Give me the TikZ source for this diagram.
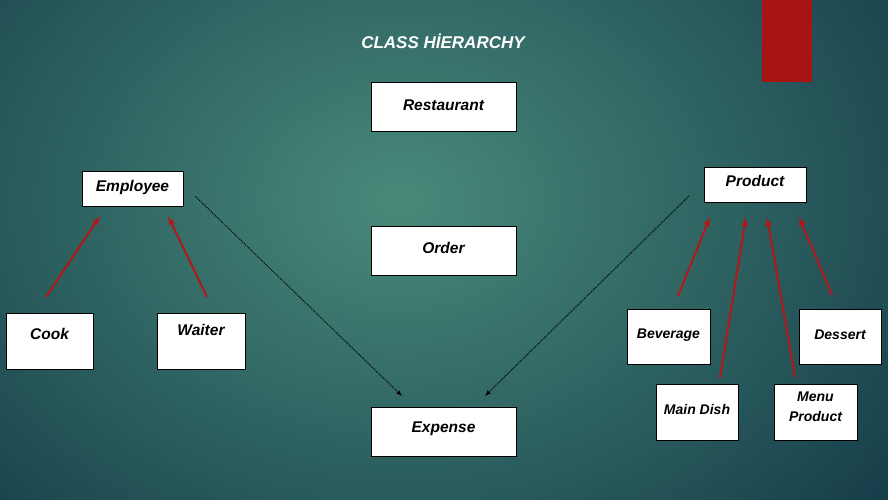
\documentclass[tikz,border=0pt]{standalone}
\usepackage{fontspec}
\setmainfont{Liberation Sans}
\begin{document}
\begin{tikzpicture}[x=1pt,y=-1pt,
  box/.style={draw=black,fill=white,line width=0.8pt},
  lbl/.style={font=\bfseries\itshape\fontsize{15.5}{18}\selectfont,align=center},
  sm/.style={font=\bfseries\itshape\fontsize{14}{20}\selectfont,align=center},
  inh/.style={draw={rgb,255:red,178;green,24;blue,24},line width=2pt,-latex},
  dep/.style={draw=black,densely dotted,line width=1pt,-latex}]
\definecolor{bgin}{RGB}{72,138,122}
\definecolor{bgout}{RGB}{20,58,72}
\definecolor{redbar}{RGB}{168,20,20}
\useasboundingbox (0,0) rectangle (888,499);
\begin{scope}
\clip (0,0) rectangle (888,499);
\shade[inner color=bgin,outer color=bgout] (-250,-300) rectangle (1050,700);
\end{scope}
\fill[redbar] (762,0) rectangle (812,82);
\node[lbl,text=white,font=\bfseries\itshape\fontsize{17}{19}\selectfont] (title) at (443,41) {CLASS HİERARCHY};
\draw[box] (371,82) rectangle (516,131); \node[lbl] (rest) at (443.5,105) {Restaurant};
\draw[box] (371,226) rectangle (516,275); \node[lbl] (order) at (443.5,248) {Order};
\draw[box] (371,407) rectangle (516,456); \node[lbl] (exp) at (443.5,429) {Expense};
\draw[box] (82,171) rectangle (183,206); \node[lbl] (emp) at (132.5,187) {Employee};
\draw[box] (6,313) rectangle (93,369); \node[lbl] (cook) at (49.5,334) {Cook};
\draw[box] (157,313) rectangle (245,369); \node[lbl] (waiter) at (201,330) {Waiter};
\draw[box] (704,167) rectangle (806,202); \node[lbl] (prod) at (755,181) {Product};
\draw[box] (627,309) rectangle (710,364); \node[sm] (bev) at (668.5,335) {Beverage};
\draw[box] (799,309) rectangle (881,364); \node[sm] (des) at (840,335) {Dessert};
\draw[box] (656,384) rectangle (738,440); \node[sm] (main) at (697,409) {Main Dish};
\draw[box] (774,384) rectangle (857,440); \node[sm] (menu) at (815.5,407) {Menu\\Product};
\coordinate (a1) at (46,297); \coordinate (b1) at (100,216);
\coordinate (a2) at (207,297); \coordinate (b2) at (168,216);
\coordinate (a3) at (678,296); \coordinate (b3) at (710,217);
\coordinate (a4) at (720,378); \coordinate (b4) at (746,217);
\coordinate (a5) at (795,377); \coordinate (b5) at (767,217);
\coordinate (a6) at (832,295); \coordinate (b6) at (799,217);
\coordinate (d1) at (195,196); \coordinate (e1) at (402,396);
\coordinate (d2) at (689,196); \coordinate (e2) at (485,396);
\draw[inh] (a1) -- (b1);
\draw[inh] (a2) -- (b2);
\draw[inh] (a3) -- (b3);
\draw[inh] (a4) -- (b4);
\draw[inh] (a5) -- (b5);
\draw[inh] (a6) -- (b6);
\draw[dep] (d1) -- (e1);
\draw[dep] (d2) -- (e2);
\end{tikzpicture}
\end{document}
